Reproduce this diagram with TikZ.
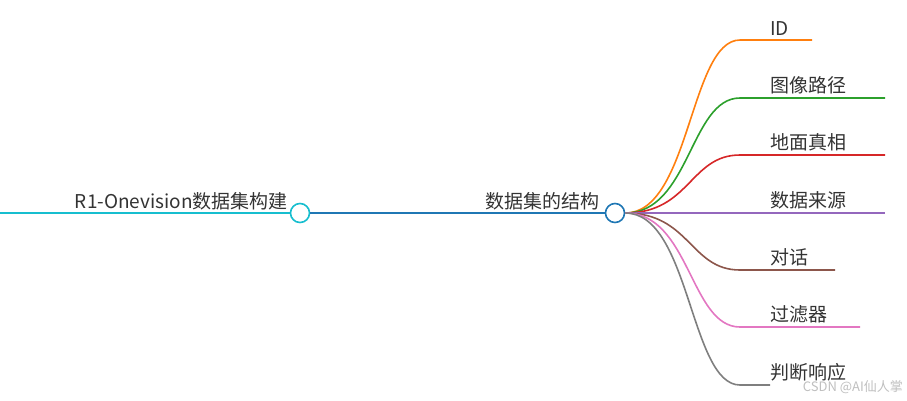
\documentclass[tikz,border=0pt]{standalone}
\usepackage{fontspec}
\setmainfont{Noto Sans CJK SC}
\begin{document}
\begin{tikzpicture}[x=1pt,y=-1pt,
  lab/.style={anchor=south west,inner sep=0pt,font=\fontsize{19}{19}\selectfont,text=black!80},
  hub/.style={circle,draw,fill=white,line width=1.6pt,minimum size=19pt,inner sep=0pt},
  br/.style={line width=1.6pt}]
\useasboundingbox (0,0) rectangle (907,400);
\definecolor{cy}{HTML}{17BECF}\definecolor{bl}{HTML}{1F77B4}
\definecolor{c1}{HTML}{FF7F0E}\definecolor{c2}{HTML}{2CA02C}\definecolor{c3}{HTML}{D62728}
\definecolor{c4}{HTML}{9467BD}\definecolor{c5}{HTML}{8C564B}\definecolor{c6}{HTML}{E377C2}\definecolor{c7}{HTML}{7F7F7F}
\coordinate (r0) at (0,213);
\node[hub,draw=cy] (h1) at (300,213) {};
\node[hub,draw=bl] (h2) at (615,213) {};
\draw[br,cy] (r0) -- (h1.west);
\draw[br,bl] (h1.east) -- (h2.west);
\node[lab,anchor=south east] (t0) at (288,210) {R1-Onevision数据集构建};
\node[lab,anchor=south east] (t1) at (600,210) {数据集的结构};
\foreach \n/\y/\e/\c/\t in {a/40/812/c1/ID,b/98/885/c2/图像路径,c/155/885/c3/地面真相,d/213/885/c4/数据来源,e/270/835/c5/对话,f/327/860/c6/过滤器,g/385/770/c7/判断响应}{
  \coordinate (\n s) at (740,\y);
  \coordinate (\n e) at (\e,\y);
  \node[lab] (\n t) at (770,\y-4) {\t};
  \draw[br,\c] (h2.east) .. controls (690,213) and (690,\y) .. (\n s) -- (\n e);
}
\node[anchor=south east,inner sep=0pt,font=\fontsize{13}{13}\selectfont,text=black!25] (wm) at (903,394) {CSDN @AI仙人掌};
\end{tikzpicture}
\end{document}
